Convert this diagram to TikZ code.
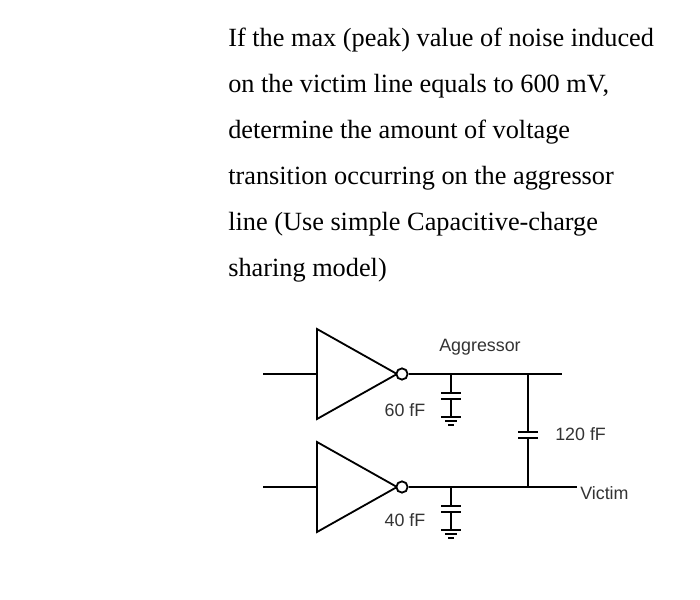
\documentclass[tikz,border=0pt]{standalone}
\usepackage{fontspec}
\setmainfont{Liberation Serif}
\newfontfamily\labelfont{Liberation Sans}
\usetikzlibrary{positioning}
\begin{document}
\begin{tikzpicture}[x=0.025cm, y=-0.025cm,
    wire/.style = {draw=black, line width=1.3pt},
    lbl/.style = {font=\labelfont\fontsize{12.7}{14}\selectfont, text=black!80, inner sep=0pt},
    txt/.style = {font=\fontsize{18.7}{21}\selectfont, anchor=west, inner sep=0pt},
    bubble/.style = {circle, draw=black, line width=1.3pt, fill=white, minimum size=8pt, inner sep=0pt}]
    \useasboundingbox[fill=white] (0,0) rectangle (700,600);
    \fill[white] (228,315) rectangle (652,578);

    % question text
    \node[txt] (l1) at (228,40) {If the max (peak) value of noise induced};
    \node[txt] (l2) at (228,86) {on the victim line equals to 600 mV,};
    \node[txt] (l3) at (228,132) {determine the amount of voltage};
    \node[txt] (l4) at (228,178) {transition occurring on the aggressor};
    \node[txt] (l5) at (228,224) {line (Use simple Capacitive-charge};
    \node[txt] (l6) at (228,270) {sharing model)};

    % buffers
    \foreach \n/\y in {agg/374, vic/487} {
        \draw[wire, line join=miter] (317,\y-45) -- (397,\y) -- (317,\y+45) -- cycle;
        \coordinate (\n in) at (263,\y);
        \coordinate (\n b) at (317,\y);
        \node[bubble] (\n out) at (402,\y) {};
        \draw[wire] (\n in) -- (\n b);
    }

    % lines
    \coordinate (aggend) at (562,374);
    \coordinate (vicend) at (577,487);
    \coordinate (ctop) at (528,374);
    \coordinate (cbot) at (528,487);
    \draw[wire] (aggout) -- (aggend);
    \draw[wire] (vicout) -- (vicend);

    % coupling capacitor
    \coordinate (cp1) at (528,432);
    \coordinate (cp2) at (528,438);
    \draw[wire] (ctop) -- (cp1) (cp2) -- (cbot);
    \draw[line width=2pt] (518,432) -- (538,432) (518,438) -- (538,438);

    % ground capacitors
    \foreach \n/\y in {ga/374, gv/487} {
        \coordinate (\n top) at (451,\y);
        \coordinate (\n p1) at (451,\y+19);
        \coordinate (\n p2) at (451,\y+25);
        \coordinate (\n gnd) at (451,\y+43);
        \draw[wire] (\n top) -- (\n p1) (\n p2) -- (\n gnd);
        \draw[line width=2pt] (441,\y+19) -- (461,\y+19) (441,\y+25) -- (461,\y+25);
        \draw[line width=1.2pt] (441,\y+43) -- (461,\y+43) (445,\y+47) -- (457,\y+47) (448,\y+51) -- (454,\y+51);
    }

    % labels
    \node[lbl] (aggl) at (480,347) {Aggressor};
    \node[lbl] (c60) at (405,410) {60 fF};
    \node[lbl, anchor=west] (c120) at (555,434) {120 fF};
    \node[lbl, anchor=west] (vicl) at (580,493) {Victim};
    \node[lbl] (c40) at (405,520) {40 fF};
\end{tikzpicture}
\end{document}
